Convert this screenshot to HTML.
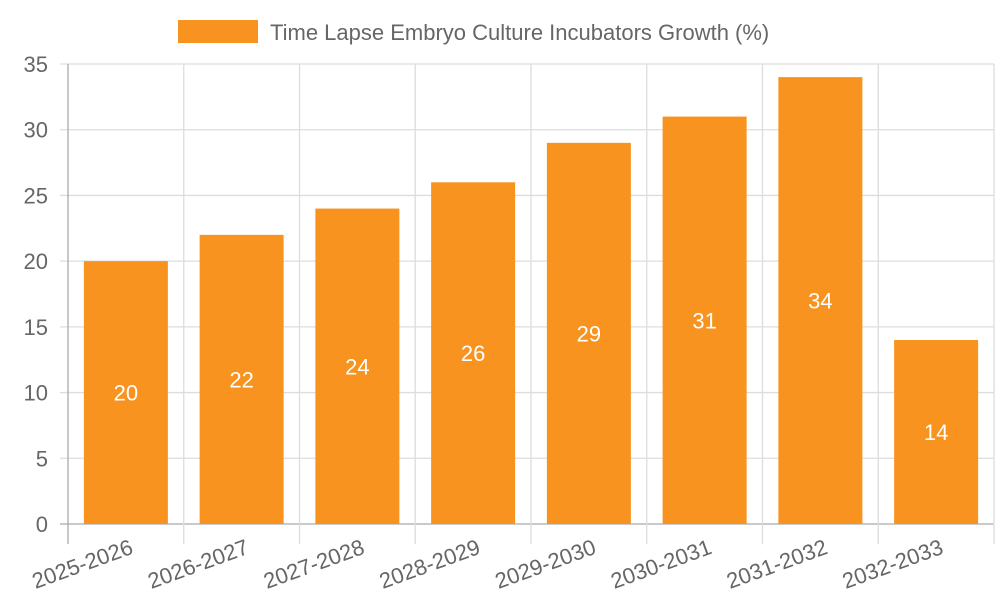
<!DOCTYPE html>
<html><head><meta charset="utf-8"><style>body{margin:0;background:#fff}svg{display:block;font-family:"Liberation Sans",sans-serif}</style></head>
<body>
<svg id="c" width="1000" height="600">
<rect x="178" y="20" width="80" height="23" fill="#f7931e"/>
<text x="270" y="40" font-size="22" fill="#666">Time Lapse Embryo Culture Incubators Growth (%)</text>
<g id="grid"></g><g id="bars"></g><g id="labels"></g>
</svg>
<script>
const categories=["2025-2026","2026-2027","2027-2028","2028-2029","2029-2030","2030-2031","2031-2032","2032-2033"];
const values=[20,22,24,26,29,31,34,14];
const yTicks=[0,5,10,15,20,25,30,35];
const NS="http://www.w3.org/2000/svg";
const L=68,R=994,T=64,B=524,yMax=35;
const y=v=>B-(B-T)*v/yMax;
const bw=(R-L)/categories.length;
const x=i=>L+bw*i;
function mk(p,tag,a,txt){const e=document.createElementNS(NS,tag);for(const k in a)e.setAttribute(k,a[k]);if(txt!==undefined)e.textContent=txt;document.getElementById(p).appendChild(e);return e;}
yTicks.forEach(t=>{
 let g=mk('grid','line',{x1:60,x2:R,y1:y(t),y2:y(t),stroke:t===0?'#aaa':'#ddd','stroke-width':1.3});
 
 
 let l=mk('grid','text',{x:48,y:y(t)+8,'text-anchor':'end','font-size':22,fill:'#666'},t);
 
 
});
for(let i=0;i<=categories.length;i++){
 let g=mk('grid','line',{x1:x(i),x2:x(i),y1:T,y2:B+20,stroke:i===0?'#aaa':'#ddd','stroke-width':1.3});
 
 
}
categories.forEach((c,i)=>{
 const cx=x(i)+bw/2;
 let r=mk('bars','rect',{x:cx-42,y:y(values[i]),width:84,height:B-y(values[i]),fill:'#f7931e'});
 
 
 let v=mk('bars','text',{x:cx,y:(y(values[i])+B)/2+8,'text-anchor':'middle','font-size':22,fill:'#fff'},values[i]);
 
 
 let t=mk('labels','text',{'text-anchor':'end','font-size':22,fill:'#666',transform:`translate(${cx+3},${538}) rotate(-20)`,dy:'16'},c);
 
 
});
</script>
</body></html>
